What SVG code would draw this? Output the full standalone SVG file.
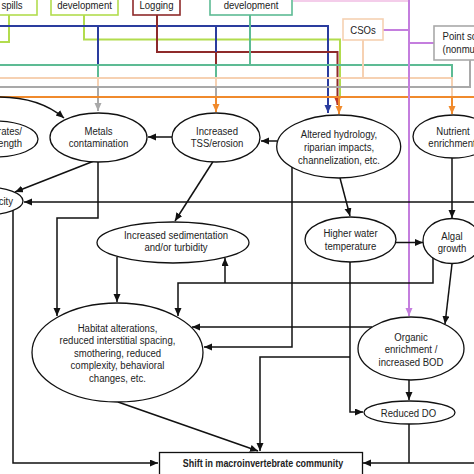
<svg xmlns="http://www.w3.org/2000/svg" width="474" height="474" viewBox="0 0 474 474">
<defs>
<style>
text { font-family: "Liberation Sans", Arial, sans-serif; font-size: 11px; fill: #222; text-anchor: middle; }
text.s { text-anchor: start; }
text.e { text-anchor: end; }
.node ellipse { fill: #fff; stroke: #111; stroke-width: 1.3; }
.src rect { fill: #fff; stroke-width: 1.6; }
.k { fill: none; stroke: #111; stroke-width: 1.5; }
.c { fill: none; stroke-width: 2; }
.green { stroke: #b2dc4e; }
.blue { stroke: #2a3c9e; }
.red { stroke: #8e2a2a; }
.teal { stroke: #5dbb94; }
.peach { stroke: #f6d1b2; }
.gray { stroke: #a9a9a9; }
.orange { stroke: #f08a2c; }
.purple { stroke: #c47ede; }
</style>
<marker id="ak" markerUnits="userSpaceOnUse" markerWidth="9" markerHeight="8" refX="8" refY="3.5" orient="auto"><path d="M0,0 L8,3.5 L0,7 z" fill="#111"/></marker>
<marker id="ag" markerUnits="userSpaceOnUse" markerWidth="9" markerHeight="8" refX="8" refY="3.5" orient="auto"><path d="M0,0 L8,3.5 L0,7 z" fill="#a9a9a9"/></marker>
<marker id="ao" markerUnits="userSpaceOnUse" markerWidth="9" markerHeight="8" refX="8" refY="3.5" orient="auto"><path d="M0,0 L8,3.5 L0,7 z" fill="#f08a2c"/></marker>
<marker id="ab" markerUnits="userSpaceOnUse" markerWidth="9" markerHeight="8" refX="8" refY="3.5" orient="auto"><path d="M0,0 L8,3.5 L0,7 z" fill="#2a3c9e"/></marker>
<marker id="ar" markerUnits="userSpaceOnUse" markerWidth="9" markerHeight="8" refX="8" refY="3.5" orient="auto"><path d="M0,0 L8,3.5 L0,7 z" fill="#c0392b"/></marker>
<marker id="ap" markerUnits="userSpaceOnUse" markerWidth="9" markerHeight="8" refX="8" refY="3.5" orient="auto"><path d="M0,0 L8,3.5 L0,7 z" fill="#c47ede"/></marker>
</defs>
<rect width="474" height="474" fill="#fff"/>

<g id="source-lines">
  <path class="c" d="M293,1 H409" stroke="#f4cdea"/>
  <path class="c green" d="M9,15 V42 H0"/>
  <path class="c green" d="M84,15 V39.5 H340 V97"/>
  <path class="c blue" d="M0,26 H328 V113" marker-end="url(#ab)"/>
  <path class="c blue" d="M98,26 V65"/>
  <path class="c teal" d="M98,65 V78"/>
  <path class="c peach" d="M98,78 V87"/>
  <path class="c gray" d="M98,87 V111" marker-end="url(#ag)"/>
  <path class="c red" d="M157,15 V52 H337.5 V105" marker-end="url(#ar)"/>
  <path class="c blue" d="M216,26 V52"/>
  <path class="c red" d="M216,52 V65"/>
  <path class="c teal" d="M216,65 V78"/>
  <path class="c peach" d="M216,78 V87"/>
  <path class="c gray" d="M216,87 V97"/>
  <path class="c teal" d="M250,15 V65"/>
  <path class="c teal" d="M0,65 H452 V78"/>
  <path class="c peach" d="M0,78 H452 V97"/>
  <path class="c peach" d="M363,40 V78"/>
  <path class="c gray" d="M470,60 V87 H0"/>
  <path class="c orange" d="M0,97 H474"/>
  <path class="c orange" d="M216,97 V112" marker-end="url(#ao)"/>
  <path class="c orange" d="M339,97 V114" marker-end="url(#ao)"/>
  <path class="c orange" d="M452,97 V114" marker-end="url(#ao)"/>
  <path class="c purple" d="M409,0 V316" marker-end="url(#ap)"/>
  <path class="c purple" d="M383,30 H409"/>
  <path class="c purple" d="M409,43 H434"/>
</g>

<g id="connectors">
  <path class="k" d="M-5,97 Q38,96 64,118" marker-end="url(#ak)"/>
  <path class="k" d="M172,137 H148" marker-end="url(#ak)"/>
  <path class="k" d="M277,141 H261" marker-end="url(#ak)"/>
  <path class="k" d="M94,161 L15,192" marker-end="url(#ak)"/>
  <path class="k" d="M474,202 H24" marker-end="url(#ak)"/>
  <path class="k" d="M98,162 V218 H57 V316" marker-end="url(#ak)"/>
  <path class="k" d="M214,160 L175,221" marker-end="url(#ak)"/>
  <path class="k" d="M117,257 V302" marker-end="url(#ak)"/>
  <path class="k" d="M433,258 V283 H178 V316" marker-end="url(#ak)"/>
  <path class="k" d="M225,283 V258" marker-end="url(#ak)"/>
  <path class="k" d="M372,327 H192" marker-end="url(#ak)"/>
  <path class="k" d="M292,167 V347 H204" marker-end="url(#ak)"/>
  <path class="k" d="M340,178 L350,216" marker-end="url(#ak)"/>
  <path class="k" d="M396,242.5 H423" marker-end="url(#ak)"/>
  <path class="k" d="M452,158 V218" marker-end="url(#ak)"/>
  <path class="k" d="M452,264 L445,324" marker-end="url(#ak)"/>
  <path class="k" d="M350,262 V412 H363" marker-end="url(#ak)"/>
  <path class="k" d="M350,357 H260 V451" marker-end="url(#ak)"/>
  <path class="k" d="M409,380 V400" marker-end="url(#ak)"/>
  <path class="k" d="M409,424 V463"/>
  <path class="k" d="M474,463 H363" marker-end="url(#ak)"/>
  <path class="k" d="M118,402 L258,451" marker-end="url(#ak)"/>
  <path class="k" d="M13,210 V463 H158" marker-end="url(#ak)"/>
</g>

<g id="src-spills" class="src"><rect x="-5" y="-5" width="42" height="20" stroke="#b2dc4e"/><text transform="translate(12,9) scale(0.87,1)">spills</text></g>
<g id="src-development-1" class="src"><rect x="51" y="-5" width="67" height="20" stroke="#b2dc4e"/><text transform="translate(84.5,9) scale(0.87,1)">development</text></g>
<g id="src-logging" class="src"><rect x="133" y="-5" width="47" height="20" stroke="#8e2a2a"/><text transform="translate(156.5,9) scale(0.87,1)">Logging</text></g>
<g id="src-development-2" class="src"><rect x="210" y="-5" width="82" height="20" stroke="#5dbb94"/><text transform="translate(251,9) scale(0.87,1)">development</text></g>
<g id="src-csos" class="src"><rect x="343" y="19" width="40" height="21" stroke="#f6d1b2"/><text transform="translate(363,34) scale(0.87,1)">CSOs</text></g>
<g id="src-point" class="src"><rect x="434" y="26" width="60" height="34" stroke="#a9a9a9"/><text class="s" transform="translate(442.5,40) scale(0.87,1)">Point sources</text><text class="s" transform="translate(442.5,52.5) scale(0.87,1)">(nonmunicipal)</text></g>

<g id="n-rates" class="node"><ellipse cx="-5" cy="139" rx="43" ry="18"/><text class="e" transform="translate(22,135) scale(0.87,1)">rates/</text><text class="e" transform="translate(22,147) scale(0.87,1)">length</text></g>
<g id="n-metals" class="node"><ellipse cx="98.5" cy="137.5" rx="48.5" ry="24.5"/><text transform="translate(98.5,135) scale(0.87,1)">Metals</text><text transform="translate(98.5,147) scale(0.87,1)">contamination</text></g>
<g id="n-tss" class="node"><ellipse cx="216" cy="137.5" rx="44" ry="24.5"/><text transform="translate(217,135) scale(0.87,1)">Increased</text><text transform="translate(217,147) scale(0.87,1)">TSS/erosion</text></g>
<g id="n-hydrology" class="node"><ellipse cx="338.7" cy="146.5" rx="62" ry="31.5"/><text transform="translate(339,138) scale(0.87,1)">Altered hydrology,</text><text transform="translate(339,151) scale(0.87,1)">riparian impacts,</text><text transform="translate(339,164) scale(0.87,1)">channelization, etc.</text></g>
<g id="n-nutrient" class="node"><ellipse cx="453" cy="136.5" rx="40" ry="21.5"/><text transform="translate(453,135) scale(0.87,1)">Nutrient</text><text transform="translate(452,147) scale(0.87,1)">enrichment</text></g>
<g id="n-toxicity" class="node"><ellipse cx="-15" cy="201" rx="38" ry="14"/><text class="e" transform="translate(13,205) scale(0.87,1)">Toxicity</text></g>
<g id="n-sediment" class="node"><ellipse cx="173" cy="242.5" rx="76" ry="20.5"/><text transform="translate(176,239) scale(0.87,1)">Increased sedimentation</text><text transform="translate(176,251) scale(0.87,1)">and/or turbidity</text></g>
<g id="n-temperature" class="node"><ellipse cx="350.5" cy="239.5" rx="45.5" ry="22.5"/><text transform="translate(350.5,237) scale(0.87,1)">Higher water</text><text transform="translate(350.5,250) scale(0.87,1)">temperature</text></g>
<g id="n-algal" class="node"><ellipse cx="452" cy="241" rx="29" ry="22.5"/><text transform="translate(452,240) scale(0.87,1)">Algal</text><text transform="translate(452,252) scale(0.87,1)">growth</text></g>
<g id="n-habitat" class="node"><ellipse cx="117.5" cy="352.5" rx="85.5" ry="49.5"/><text transform="translate(117.5,331.5) scale(0.87,1)">Habitat alterations,</text><text transform="translate(117.5,344) scale(0.87,1)">reduced interstitial spacing,</text><text transform="translate(117.5,356.5) scale(0.87,1)">smothering, reduced</text><text transform="translate(117.5,369) scale(0.87,1)">complexity, behavioral</text><text transform="translate(117.5,381.5) scale(0.87,1)">changes, etc.</text></g>
<g id="n-organic" class="node"><ellipse cx="411" cy="348.5" rx="53" ry="31.5"/><text transform="translate(411,340.5) scale(0.87,1)">Organic</text><text transform="translate(411,353.2) scale(0.87,1)">enrichment /</text><text transform="translate(411,366) scale(0.87,1)">increased BOD</text></g>
<g id="n-do" class="node"><ellipse cx="409.5" cy="412.5" rx="45.5" ry="11.5"/><text transform="translate(408.5,416.5) scale(0.87,1)">Reduced DO</text></g>
<g id="n-shift" class="node"><rect x="159.5" y="452.5" width="203" height="30" fill="#fff" stroke="#111" stroke-width="1.3"/><text transform="translate(263,467) scale(0.81,1)" style="font-weight:bold">Shift in macroinvertebrate community</text></g>
</svg>
